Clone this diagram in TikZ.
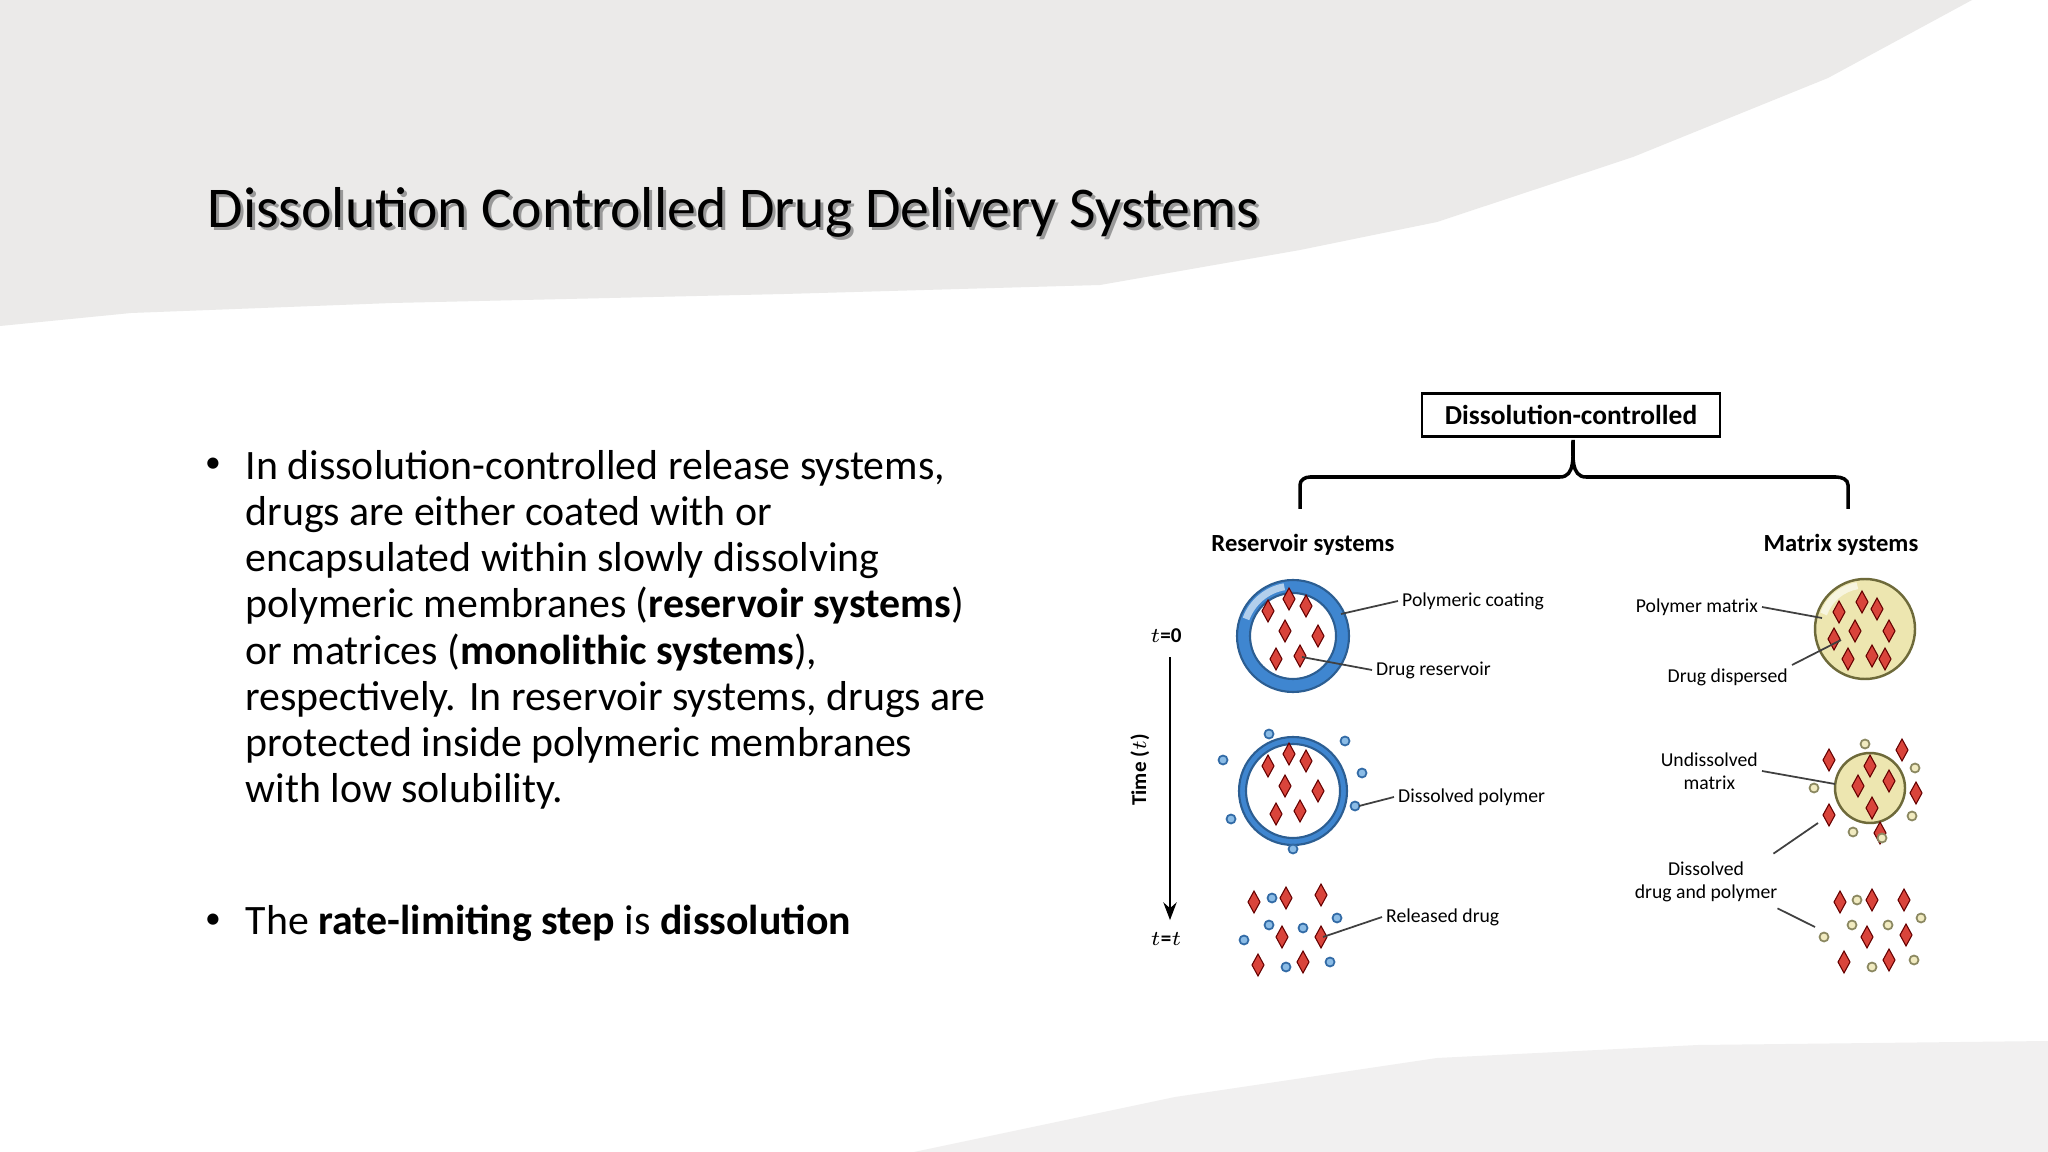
\documentclass[tikz,border=0pt]{standalone}
\usepackage{fontspec}
\setmainfont{Carlito}
\usetikzlibrary{positioning,arrows.meta}
\definecolor{paper}{HTML}{EBEAE9}
\definecolor{drugred}{HTML}{D9443B}
\definecolor{coatblue}{HTML}{3F86D0}
\definecolor{dotblue}{HTML}{8BBCE6}
\definecolor{matrixfill}{HTML}{EDE6B0}
\definecolor{matrixedge}{HTML}{6E6A3A}
\tikzset{
  lbl/.style={font=\fontsize{5.6}{6.6}\selectfont, inner sep=1pt, align=center},
  hdr/.style={font=\fontsize{7}{8}\selectfont\bfseries},
  lead/.style={draw=black!75, line width=0.5pt},
  body/.style={font=\fontsize{11.9}{13.1}\selectfont},
  bul/.style={font=\fontsize{9}{10}\selectfont, inner sep=0},
}
\begin{document}
\begin{tikzpicture}[x=0.01cm, y=-0.01cm]
  %----- background -----
  \useasboundingbox (0,0) rectangle (2048,1152);
  \fill[white] (0,0) rectangle (2048,1152);
  \fill[paper] (0,0) -- (0,326) -- (131,313) -- (392,303) -- (784,294) -- (1100,285)
    -- (1300,250) -- (1437,222) -- (1633,157) -- (1828,78) -- (1972,0) -- cycle;
  \fill[paper!70] (914,1152) -- (1175,1097) -- (1437,1058) -- (1698,1045) -- (2048,1041)
    -- (2048,1152) -- cycle;
  % drug and dots
  \def\drug#1#2{\filldraw[fill=drugred, draw=red!40!black, line width=0.3pt]
    (#1,#2) ++(0,-11) -- ++(6,11) -- ++(-6,11) -- ++(-6,-11) -- cycle;}
  \def\bdot#1#2{\filldraw[fill=dotblue, draw=coatblue!80!black, line width=0.5pt] (#1,#2) circle (4.5);}
  \def\gdot#1#2{\filldraw[fill=matrixfill!80, draw=matrixedge!80, line width=0.5pt] (#1,#2) circle (4.5);}

  %----- title and text -----
  \node[anchor=west, font=\fontsize{16.4}{18}\selectfont, inner sep=0, text=black!40] at (210,215)
    {Dissolution Controlled Drug Delivery Systems};
  \node[anchor=west, font=\fontsize{16.4}{18}\selectfont, inner sep=0] (title) at (207,212)
    {Dissolution Controlled Drug Delivery Systems};
  \node[anchor=north west, align=left, inner sep=0, body] (txt) at (245,450)
    {In dissolution-controlled release systems,\\ drugs are either coated with or\\
     encapsulated within slowly dissolving\\ polymeric membranes (\textbf{reservoir systems})\\
     or matrices (\textbf{monolithic systems}),\\ respectively. In reservoir systems, drugs are\\
     protected inside polymeric membranes\\ with low solubility.};
  \node[bul] (b1) at (213,465) {\textbullet};
  \node[anchor=west, inner sep=0, body] (txt2) at (245,923)
    {The \textbf{rate-limiting step} is \textbf{dissolution}};
  \node[bul] (b2) at (213,921) {\textbullet};

  %----- hierarchy -----
  \node[draw, line width=0.7pt, minimum width=2.98cm, minimum height=0.43cm, inner sep=2pt,
        font=\fontsize{7.8}{9}\selectfont\bfseries] (root) at (1571,415) {Dissolution-controlled};
  \draw[line width=1pt] (1300,509) -- (1300,485) to[out=90,in=180] (1310,477) -- (1560,477)
    to[out=0,in=-90] (1573,440) to[out=-90,in=180] (1586,477) -- (1836,477)
    to[out=0,in=90] (1848,485) -- (1848,509);
  \node[hdr] (res) at (1303,545) {Reservoir systems};
  \node[hdr] (mat) at (1841,545) {Matrix systems};

  %----- time axis -----
  \node[font=\fontsize{6}{7}\selectfont\bfseries] (t0) at (1166,636) {$t$=0};
  \node[font=\fontsize{6}{7}\selectfont\bfseries] (tt) at (1166,939) {$t$=$t$};
  \draw[-{Stealth[length=5pt]}, line width=0.8pt] (t0.south) ++(4,2) coordinate (ta) -- (ta |- tt.north);
  \node[rotate=90, font=\fontsize{6}{7}\selectfont\bfseries] (time) at (1140,770) {Time ($t$)};

  %----- reservoir, t=0 -----
  \filldraw[fill=coatblue, draw=coatblue!70!black, line width=0.6pt, even odd rule]
    (1293,636) circle (56) (1293,636) circle (43);
  \draw[white!60!coatblue, line width=2pt] (1293,636) ++(200:50) arc (200:260:50);
  \foreach \dx/\dy in {-25/-25,-4/-37,13/-30,-8/-5,25/0,-17/23,7/20}
    {\drug{1293+\dx}{636+\dy}}
  \node[lbl, anchor=west] (coat) at (1398,601) {Polymeric coating};
  \node[lbl, anchor=west] (resv) at (1372,670) {Drug reservoir};
  \coordinate (coatpt) at (1341,614);
  \coordinate (resvpt) at (1302,657);
  \draw[lead] (coatpt) -- (coat.west);
  \draw[lead] (resvpt) -- (resv.west);

  %----- reservoir, dissolving -----
  \filldraw[fill=coatblue, draw=coatblue!70!black, line width=0.6pt, even odd rule]
    (1293,791) circle (54) (1293,791) circle (47);
  \foreach \dx/\dy in {-25/-25,-4/-37,13/-30,-8/-5,25/0,-17/23,7/20}
    {\drug{1293+\dx}{791+\dy}}
  \foreach \dx/\dy in {-24/-57,52/-50,-70/-31,69/-18,62/15,-62/28,0/58}
    {\bdot{1293+\dx}{791+\dy}}
  \node[lbl, anchor=west] (dpoly) at (1394,797) {Dissolved polymer};
  \coordinate (dpolypt) at (1359,806);
  \draw[lead] (dpolypt) -- (dpoly.west);

  %----- reservoir, released -----
  \foreach \dx/\dy in {-36/-28,-4/-32,31/-35,-8/7,31/7,-32/35,13/32}
    {\drug{1290+\dx}{930+\dy}}
  \foreach \dx/\dy in {-18/-32,47/-12,-21/-5,13/-2,-46/10,-4/37,40/32}
    {\bdot{1290+\dx}{930+\dy}}
  \node[lbl, anchor=west] (rel) at (1382,917) {Released drug};
  \coordinate (relpt) at (1323,937);
  \draw[lead] (relpt) -- (rel.west);

  %----- matrix, t=0 -----
  \filldraw[fill=matrixfill, draw=matrixedge, line width=0.7pt] (1865,629) circle (50);
  \draw[white, line width=2pt, opacity=0.6] (1865,629) ++(200:44) arc (200:260:44);
  \foreach \dx/\dy in {-26/-17,-3/-27,12/-20,-31/10,-10/2,24/2,-17/30,7/27,20/30}
    {\drug{1865+\dx}{629+\dy}}
  \node[lbl, anchor=east] (pmat) at (1762,607) {Polymer matrix};
  \node[lbl, anchor=north east] (ddisp) at (1792,665) {Drug dispersed};
  \coordinate (pmatpt) at (1822,618);
  \coordinate (ddisppt) at (1841,640);
  \draw[lead] (pmat.east) -- (pmatpt);
  \draw[lead] (ddisp.north east) -- (ddisppt);

  %----- matrix, dissolving -----
  \filldraw[fill=matrixfill, draw=matrixedge, line width=0.7pt] (1870,788) circle (35);
  \foreach \dx/\dy in {0/-22,-12/-2,19/-7,2/20}
    {\drug{1870+\dx}{788+\dy}}
  \foreach \dx/\dy in {-41/-28,32/-38,46/5,-41/27,10/45}
    {\drug{1870+\dx}{788+\dy}}
  \foreach \dx/\dy in {-5/-44,45/-20,-56/0,42/28,-17/44,12/50}
    {\gdot{1870+\dx}{788+\dy}}
  \node[lbl, anchor=east] (undis) at (1762,771) {Undissolved\\matrix};
  \coordinate (undispt) at (1835,784);
  \draw[lead] (undis.east) -- (undispt);

  %----- matrix, released -----
  \foreach \dx/\dy in {-34/-28,-2/-30,30/-30,-7/7,32/5,-30/32,15/30}
    {\drug{1874+\dx}{930+\dy}}
  \foreach \dx/\dy in {-17/-30,47/-12,-22/-5,14/-5,-50/7,-2/37,40/30}
    {\gdot{1874+\dx}{930+\dy}}
  \node[lbl] (ddrug) at (1706,882) {Dissolved\\drug and polymer};
  \coordinate (ddrugpt1) at (1818,823);
  \coordinate (ddrugpt2) at (1815,927);
  \draw[lead] (ddrug.north east) ++(-8,-4) -- (ddrugpt1);
  \draw[lead] (ddrug.south east) ++(-4,2) -- (ddrugpt2);
\end{tikzpicture}
\end{document}
